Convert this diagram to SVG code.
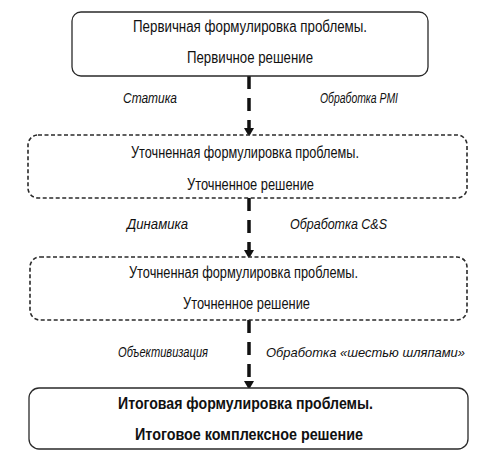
<svg xmlns="http://www.w3.org/2000/svg" width="481" height="458" viewBox="0 0 481 458">
<style>
  .box { fill: #fff; stroke: #2a2a2a; stroke-width: 1.3; }
  .dbox { fill: #fff; stroke: #2a2a2a; stroke-width: 1.6; stroke-dasharray: 4 2.5; }
  .t { font-family: "Liberation Sans Narrow", "Liberation Sans", Arial, sans-serif; font-size: 16px; fill: #111; }
  .b { font-weight: bold; }
  .lbl { font-family: "Liberation Sans Narrow", "Liberation Sans", Arial, sans-serif; font-size: 14.5px; font-style: italic; fill: #111; }
  .sm { font-size: 13px; }
  .conn { stroke: #111; stroke-width: 3.5; stroke-dasharray: 13 9; fill: none; marker-end: url(#ah); }
</style>
<defs>
  <marker id="ah" markerUnits="userSpaceOnUse" markerWidth="10" markerHeight="10" refX="0" refY="4" orient="auto" viewBox="0 0 8 8">
    <path d="M0,0 L7,4 L0,8 z" fill="#111"/>
  </marker>
</defs>
<rect width="481" height="458" fill="#fff"/>
<g id="connectors">
  <line class="conn" x1="249" y1="76" x2="249" y2="128"/>
  <line class="conn" x1="249" y1="198" x2="249" y2="250"/>
  <line class="conn" x1="249" y1="320" x2="249" y2="381"/>
  <text class="lbl" x="123" y="103" textLength="54" lengthAdjust="spacingAndGlyphs">Статика</text>
  <text class="lbl" x="320" y="103" textLength="78" lengthAdjust="spacingAndGlyphs">Обработка PMI</text>
  <text class="lbl" x="127" y="229" textLength="61" lengthAdjust="spacingAndGlyphs">Динамика</text>
  <text class="lbl" x="290" y="229" textLength="97" lengthAdjust="spacingAndGlyphs">Обработка C&amp;S</text>
  <text class="lbl" x="118" y="357" textLength="90" lengthAdjust="spacingAndGlyphs">Объективизация</text>
  <text class="lbl sm" x="266" y="357" textLength="199" lengthAdjust="spacingAndGlyphs">Обработка «шестью шляпами»</text>
</g>
<g id="node1">
  <rect class="box" x="72" y="12" width="356" height="64" rx="9"/>
  <text class="t" x="133" y="32" textLength="234" lengthAdjust="spacingAndGlyphs">Первичная формулировка проблемы.</text>
  <text class="t" x="187" y="63" textLength="126" lengthAdjust="spacingAndGlyphs">Первичное решение</text>
</g>
<g id="node2">
  <rect class="dbox" x="28" y="135" width="439" height="63" rx="10"/>
  <text class="t" x="131" y="158" textLength="228" lengthAdjust="spacingAndGlyphs">Уточненная формулировка проблемы.</text>
  <text class="t" x="187" y="190" textLength="127" lengthAdjust="spacingAndGlyphs">Уточненное решение</text>
</g>
<g id="node3">
  <rect class="dbox" x="30" y="257" width="437" height="63" rx="10"/>
  <text class="t" x="129" y="278" textLength="229" lengthAdjust="spacingAndGlyphs">Уточненная формулировка проблемы.</text>
  <text class="t" x="183" y="309" textLength="127" lengthAdjust="spacingAndGlyphs">Уточненное решение</text>
</g>
<g id="node4">
  <rect class="box" x="29" y="388" width="439" height="61" rx="10"/>
  <text class="t b" x="118" y="409" textLength="255" lengthAdjust="spacingAndGlyphs">Итоговая формулировка проблемы.</text>
  <text class="t b" x="135" y="440" textLength="228" lengthAdjust="spacingAndGlyphs">Итоговое комплексное решение</text>
</g>
</svg>
